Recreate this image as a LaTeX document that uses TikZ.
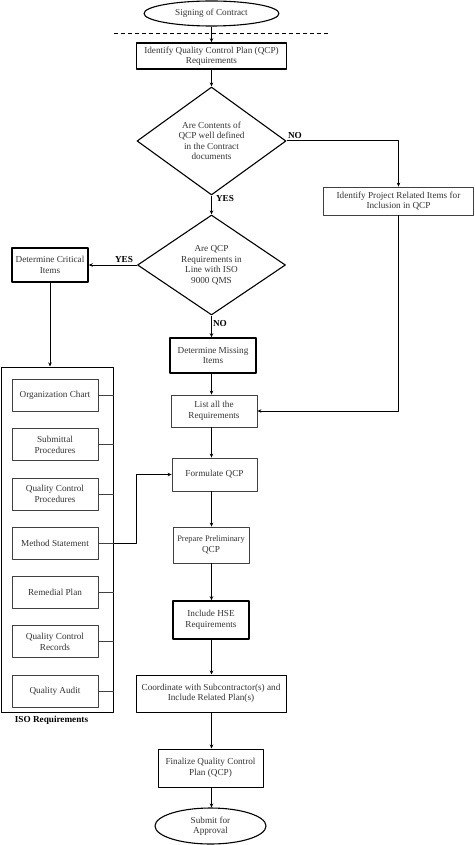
\documentclass[tikz,border=0pt]{standalone}
\usepackage{fontspec}
\setmainfont{Liberation Serif}
\usetikzlibrary{shapes.geometric,arrows.meta}

\begin{document}
\begin{tikzpicture}[x=1pt,y=-1pt,line join=round,>={Stealth[length=4pt,width=3.5pt]},
  font=\fontsize{9.2}{10.5}\selectfont,
  box/.style={draw=black!75,line width=0.8pt,rectangle,align=center,inner sep=0pt,text=black!80},
  boldbox/.style={box,draw=black,line width=1.5pt},
  decision/.style={draw,diamond,line width=1.1pt,align=center,inner sep=0pt,text=black!80},
  term/.style={draw,ellipse,line width=1.1pt,align=center,inner sep=0pt,text=black!80},
  flow/.style={->,line width=1pt},
  tag/.style={font=\fontsize{9.2}{10}\selectfont\bfseries}]
  \useasboundingbox (0,0) rectangle (474,845);
  \coordinate (spine) at (211.5,0);

  % main column
  \node[term,minimum width=135,minimum height=25] (sign) at (211.5,13.5) {Signing of Contract};
  \draw[line width=1.2pt,dash pattern=on 4pt off 3pt] (114,33.5) -- (328,33.5);
  \node[boldbox,minimum width=150,minimum height=26] (idqcp) at (211.5,56) {Identify Quality Control Plan (QCP)\\Requirements};
  \node[decision,aspect=1.38,minimum width=149,minimum height=108] (d1) at (211.5,141) {Are Contents of\\QCP well defined\\in the Contract\\documents};
  \node[box,minimum width=150,minimum height=28] (idproj) at (398.5,201) {Identify Project Related Items for\\Inclusion in QCP};
  \node[decision,aspect=1.48,minimum width=148,minimum height=100] (d2) at (211.5,265) {Are QCP\\Requirements in\\Line with ISO\\9000 QMS};
  \node[boldbox,minimum width=76,minimum height=34] (crit) at (50,265) {Determine Critical\\Items};
  \node[boldbox,minimum width=86,minimum height=35] (miss) at (213,355.5) {Determine Missing\\Items};
  \node[box,minimum width=86,minimum height=32] (list) at (214,411) {List all the\\Requirements};
  \node[box,minimum width=85,minimum height=33] (form) at (214.5,474.5) {Formulate QCP};
  \node[box,minimum width=76,minimum height=36] (prep) at (211,545) {{\fontsize{8.4}{10.5}\selectfont Prepare Preliminary}\\QCP};
  \node[boldbox,minimum width=76,minimum height=38] (hse) at (211,620) {Include HSE\\Requirements};
  \node[box,draw=black,line width=1pt,minimum width=150,minimum height=37] (coord) at (211,693.5) {Coordinate with Subcontractor(s) and\\Include Related Plan(s)};
  \node[box,draw=black,line width=1pt,minimum width=105,minimum height=38] (final) at (210.5,768) {Finalize Quality Control\\Plan (QCP)};
  \node[term,minimum width=111,minimum height=36] (submit) at (210.5,826) {Submit for\\Approval};

  % ISO requirements
  \node[draw,line width=1pt,minimum width=112,minimum height=345,inner sep=0pt] (iso) at (57,539.5) {};
  \node[tag] (isolbl) at (51.5,720) {ISO Requirements};
  \foreach \name/\txt [count=\i from 0] in {org/Organization Chart, sub/{Submittal\\Procedures},
      qcproc/{Quality Control\\Procedures}, ms/Method Statement, rem/Remedial Plan,
      qcrec/{Quality Control\\Records}, audit/Quality Audit}
  {
    \node[box,minimum width=86,minimum height=32] (\name) at (55,395.5+49.25*\i) {\txt};
    \draw[line width=0.8pt,black!75] (\name.east) -- (\name.east -| iso.east);
  }

  % labels
  \node[tag] (no1) at (295,136) {NO};
  \node[tag] (yes1) at (225,198) {YES};
  \node[tag] (yes2) at (124,259) {YES};
  \node[tag] (no2) at (220,323) {NO};

  % connectors
  \draw[flow] (sign.south -| spine) -- (idqcp.north -| spine);
  \draw[flow] (idqcp.south -| spine) -- (d1.north);
  \draw[flow] (d1.south) -- (d2.north);
  \draw[flow] (d1.east) -| (idproj.north);
  \draw[flow] (idproj.south) |- (list.east);
  \draw[flow] (d2.west) -- (crit.east);
  \draw[flow] (crit.south) -- (crit.south |- iso.north);
  \draw[flow] (d2.south) -- (miss.north -| spine);
  \draw[flow] (miss.south -| spine) -- (list.north -| spine);
  \draw[flow] (list.south -| spine) -- (form.north -| spine);
  \draw[flow] (ms.east -| iso.east) -| ([xshift=23pt]iso.east |- form.west) -- (form.west);
  \draw[flow] (form.south -| spine) -- (prep.north -| spine);
  \draw[flow] (prep.south -| spine) -- (hse.north -| spine);
  \draw[flow] (hse.south -| spine) -- (coord.north -| spine);
  \draw[flow] (coord.south -| spine) -- (final.north -| spine);
  \draw[flow] (final.south -| spine) -- (submit.north -| spine);
\end{tikzpicture}
\end{document}
